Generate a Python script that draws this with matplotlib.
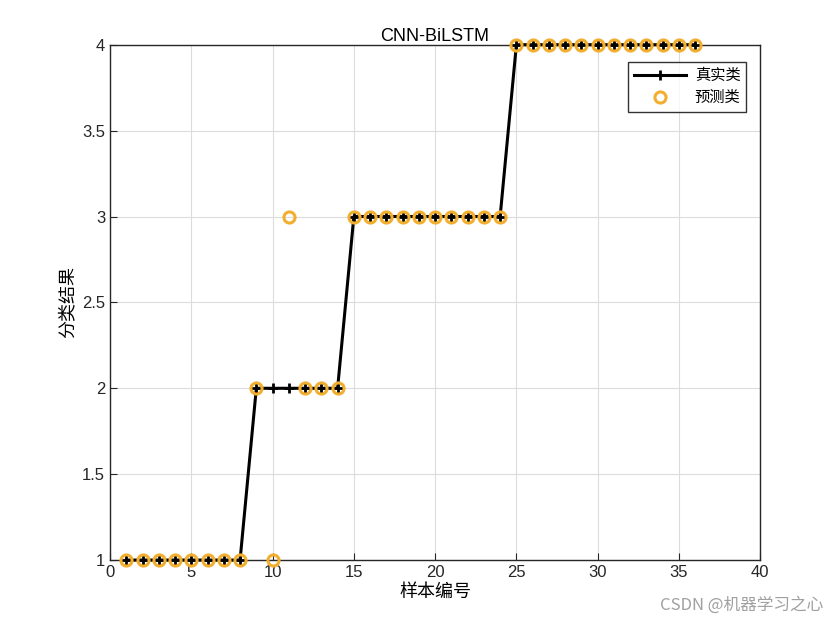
import numpy as np
import matplotlib
matplotlib.use("Agg")
import matplotlib.pyplot as plt

plt.rcParams['font.family'] = ['Liberation Sans', 'Noto Sans CJK SC', 'DejaVu Sans']

samples = np.arange(1, 37)
true_cls = [1] * 8 + [2] * 6 + [3] * 10 + [4] * 12
pred_cls = list(true_cls)
pred_cls[9] = 1   # sample 10
pred_cls[10] = 3  # sample 11

fig = plt.figure(figsize=(8.4, 6.3), dpi=100)
ax = fig.add_axes([0.131, 0.111, 0.774, 0.818])

ax.plot(samples, true_cls, color="black", linewidth=2.2, marker="+", markersize=7,
        markeredgewidth=2, label="真实类", clip_on=False, zorder=3)
ax.plot(samples, pred_cls, linestyle="none", marker="o", markersize=8, markerfacecolor="none",
        markeredgecolor="#F2AE2E", markeredgewidth=2.2, label="预测类", clip_on=False, zorder=4)

ax.set_xlim(0, 40)
ax.set_ylim(1, 4)
ax.set_xticks(np.arange(0, 41, 5))
ax.set_yticks(np.arange(1, 4.01, 0.5))
ax.set_yticklabels(["1", "1.5", "2", "2.5", "3", "3.5", "4"])
ax.tick_params(labelsize=12, direction="in", length=5, colors="#262626")
ax.grid(True, color="#dcdcdc", linewidth=0.8)
ax.set_axisbelow(True)
for s in ax.spines.values():
    s.set_color("#262626")
    s.set_linewidth(1)
ax.set_title("CNN-BiLSTM", fontsize=13, pad=3)
ax.set_xlabel("样本编号", fontsize=13, labelpad=2, family=['Noto Sans CJK SC'])
ax.set_ylabel("分类结果", fontsize=13, family=['Noto Sans CJK SC'])

leg = ax.legend(loc="upper right", fancybox=False, edgecolor="black",
                borderaxespad=0, borderpad=0.35, labelspacing=0.35, handlelength=3.4,
                handletextpad=0.6, bbox_to_anchor=(0.978, 0.967),
                prop={'family': ['Noto Sans CJK SC'], 'size': 11})
leg.get_frame().set_linewidth(1)

fig.text(0.98, 0.025, "CSDN @机器学习之心", ha="right", va="bottom", fontsize=12,
         color="#a0a0a0", family=['Noto Sans CJK SC'])

fig.savefig("out.png", dpi=100)
